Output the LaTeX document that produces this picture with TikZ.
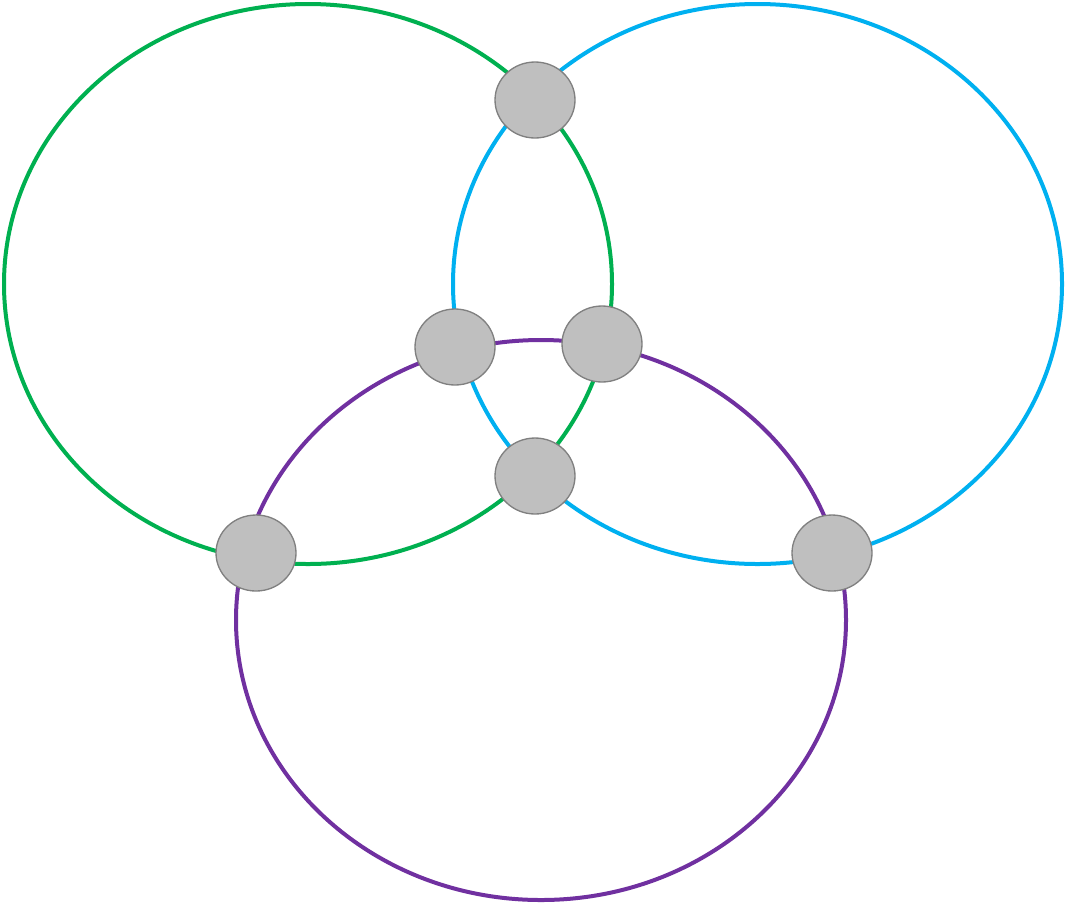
\documentclass[tikz,border=0pt]{standalone}
\usetikzlibrary{shapes.geometric}
\begin{document}
\begin{tikzpicture}[x=0.75pt,y=-0.75pt,
  ring/.style={line width=3pt},
  dot/.style={ellipse,draw=gray,line width=1pt,fill=black!25,minimum width=60pt,minimum height=57pt,inner sep=0pt}]
\definecolor{g}{HTML}{00B050}\definecolor{b}{HTML}{00B0F0}\definecolor{p}{HTML}{7030A0}
\useasboundingbox (0,0) rectangle (1066,904);
\draw[ring,g] (308,284) ellipse [x radius=304, y radius=280];
\draw[ring,b] (757.5,284) ellipse [x radius=304.5, y radius=280];
\draw[ring,p] (541,620) ellipse [x radius=305, y radius=280];
\node[dot] (n1) at (535,100) {};
\node[dot] (n2) at (455,347) {};
\node[dot] (n3) at (602,344) {};
\node[dot] (n4) at (535,476) {};
\node[dot] (n5) at (256,553) {};
\node[dot] (n6) at (832,553) {};
\end{tikzpicture}
\end{document}
